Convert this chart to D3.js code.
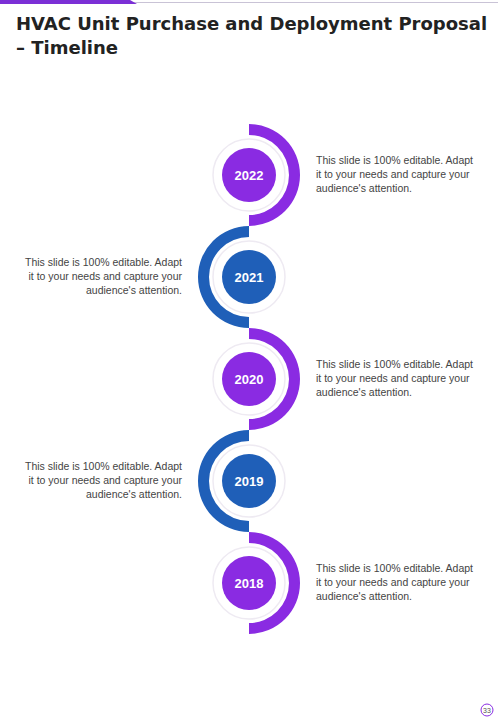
<!DOCTYPE html>
<html><head><meta charset="utf-8">
<script src="https://cdn.jsdelivr.net/npm/d3@7"></script>
<style>body{margin:0;background:#fff;}</style>
</head><body>
<svg id="chart" width="498" height="720"></svg>
<script>
var years = ["2022", "2021", "2020", "2019", "2018"];
var sides = ["right", "left", "right", "left", "right"];
var colors = ["#8a2be2", "#1f5fb8", "#8a2be2", "#1f5fb8", "#8a2be2"];
var descLines = ["This slide is 100% editable. Adapt", "it to your needs and capture your", "audience's attention."];

var svg = d3.select("#chart");
var cx = 249;

// header bars
svg.append("rect").attr("x", 0).attr("y", 2).attr("width", 498).attr("height", 1).attr("fill", "#c9c3d6");
svg.append("path").attr("d", "M0,0 H130 L137,4 H0 Z").attr("fill", "#7b2fd6");

svg.append("text").attr("x", 16).attr("y", 30)
  .attr("style", "font-family:'DejaVu Sans';font-weight:bold;font-size:18px").attr("fill", "#222")
  .text("HVAC Unit Purchase and Deployment Proposal");
svg.append("text").attr("x", 16).attr("y", 54)
  .attr("style", "font-family:'DejaVu Sans';font-weight:bold;font-size:18px").attr("fill", "#222")
  .text("– Timeline");

var y = d3.scaleBand().domain(years).range([124, 634]);

var arc = d3.arc().innerRadius(40).outerRadius(51);

var g = svg.selectAll("g.item").data(years).enter().append("g")
  .attr("transform", function(d) { return "translate(" + cx + "," + (y(d) + y.bandwidth() / 2) + ")"; });

g.append("path")
  .attr("d", function(d, i) {
    return sides[i] == "right" ? arc({startAngle: 0, endAngle: Math.PI}) : arc({startAngle: Math.PI, endAngle: 2 * Math.PI});
  })
  .attr("fill", function(d, i) { return colors[i]; });

g.append("circle").attr("r", 36).attr("fill", "#fff").attr("stroke", "#eeeaf2").attr("stroke-width", 1.5);
g.append("circle").attr("r", 27).attr("fill", function(d, i) { return colors[i]; });
g.append("text").attr("y", 5).attr("text-anchor", "middle")
  .attr("style", "font-family:Arial;font-weight:bold;font-size:13px").attr("fill", "#fff")
  .text(function(d) { return d; });

g.each(function(d, i) {
  var right = sides[i] == "right";
  var t = d3.select(this).append("text")
    .attr("text-anchor", right ? "start" : "end")
    .attr("style", "font-family:Arial;font-size:10.5px").attr("fill", "#444");
  descLines.forEach(function(line, k) {
    t.append("tspan").attr("x", right ? 67 : -67).attr("y", -11 + k * 14).text(line);
  });
});

// page number
svg.append("circle").attr("cx", 487).attr("cy", 710).attr("r", 6).attr("fill", "#fff").attr("stroke", "#8a2be2");
svg.append("text").attr("x", 487).attr("y", 712.5).attr("text-anchor", "middle")
  .attr("style", "font-family:Arial;font-size:7px").attr("fill", "#555").text("33");
</script>
</body></html>
